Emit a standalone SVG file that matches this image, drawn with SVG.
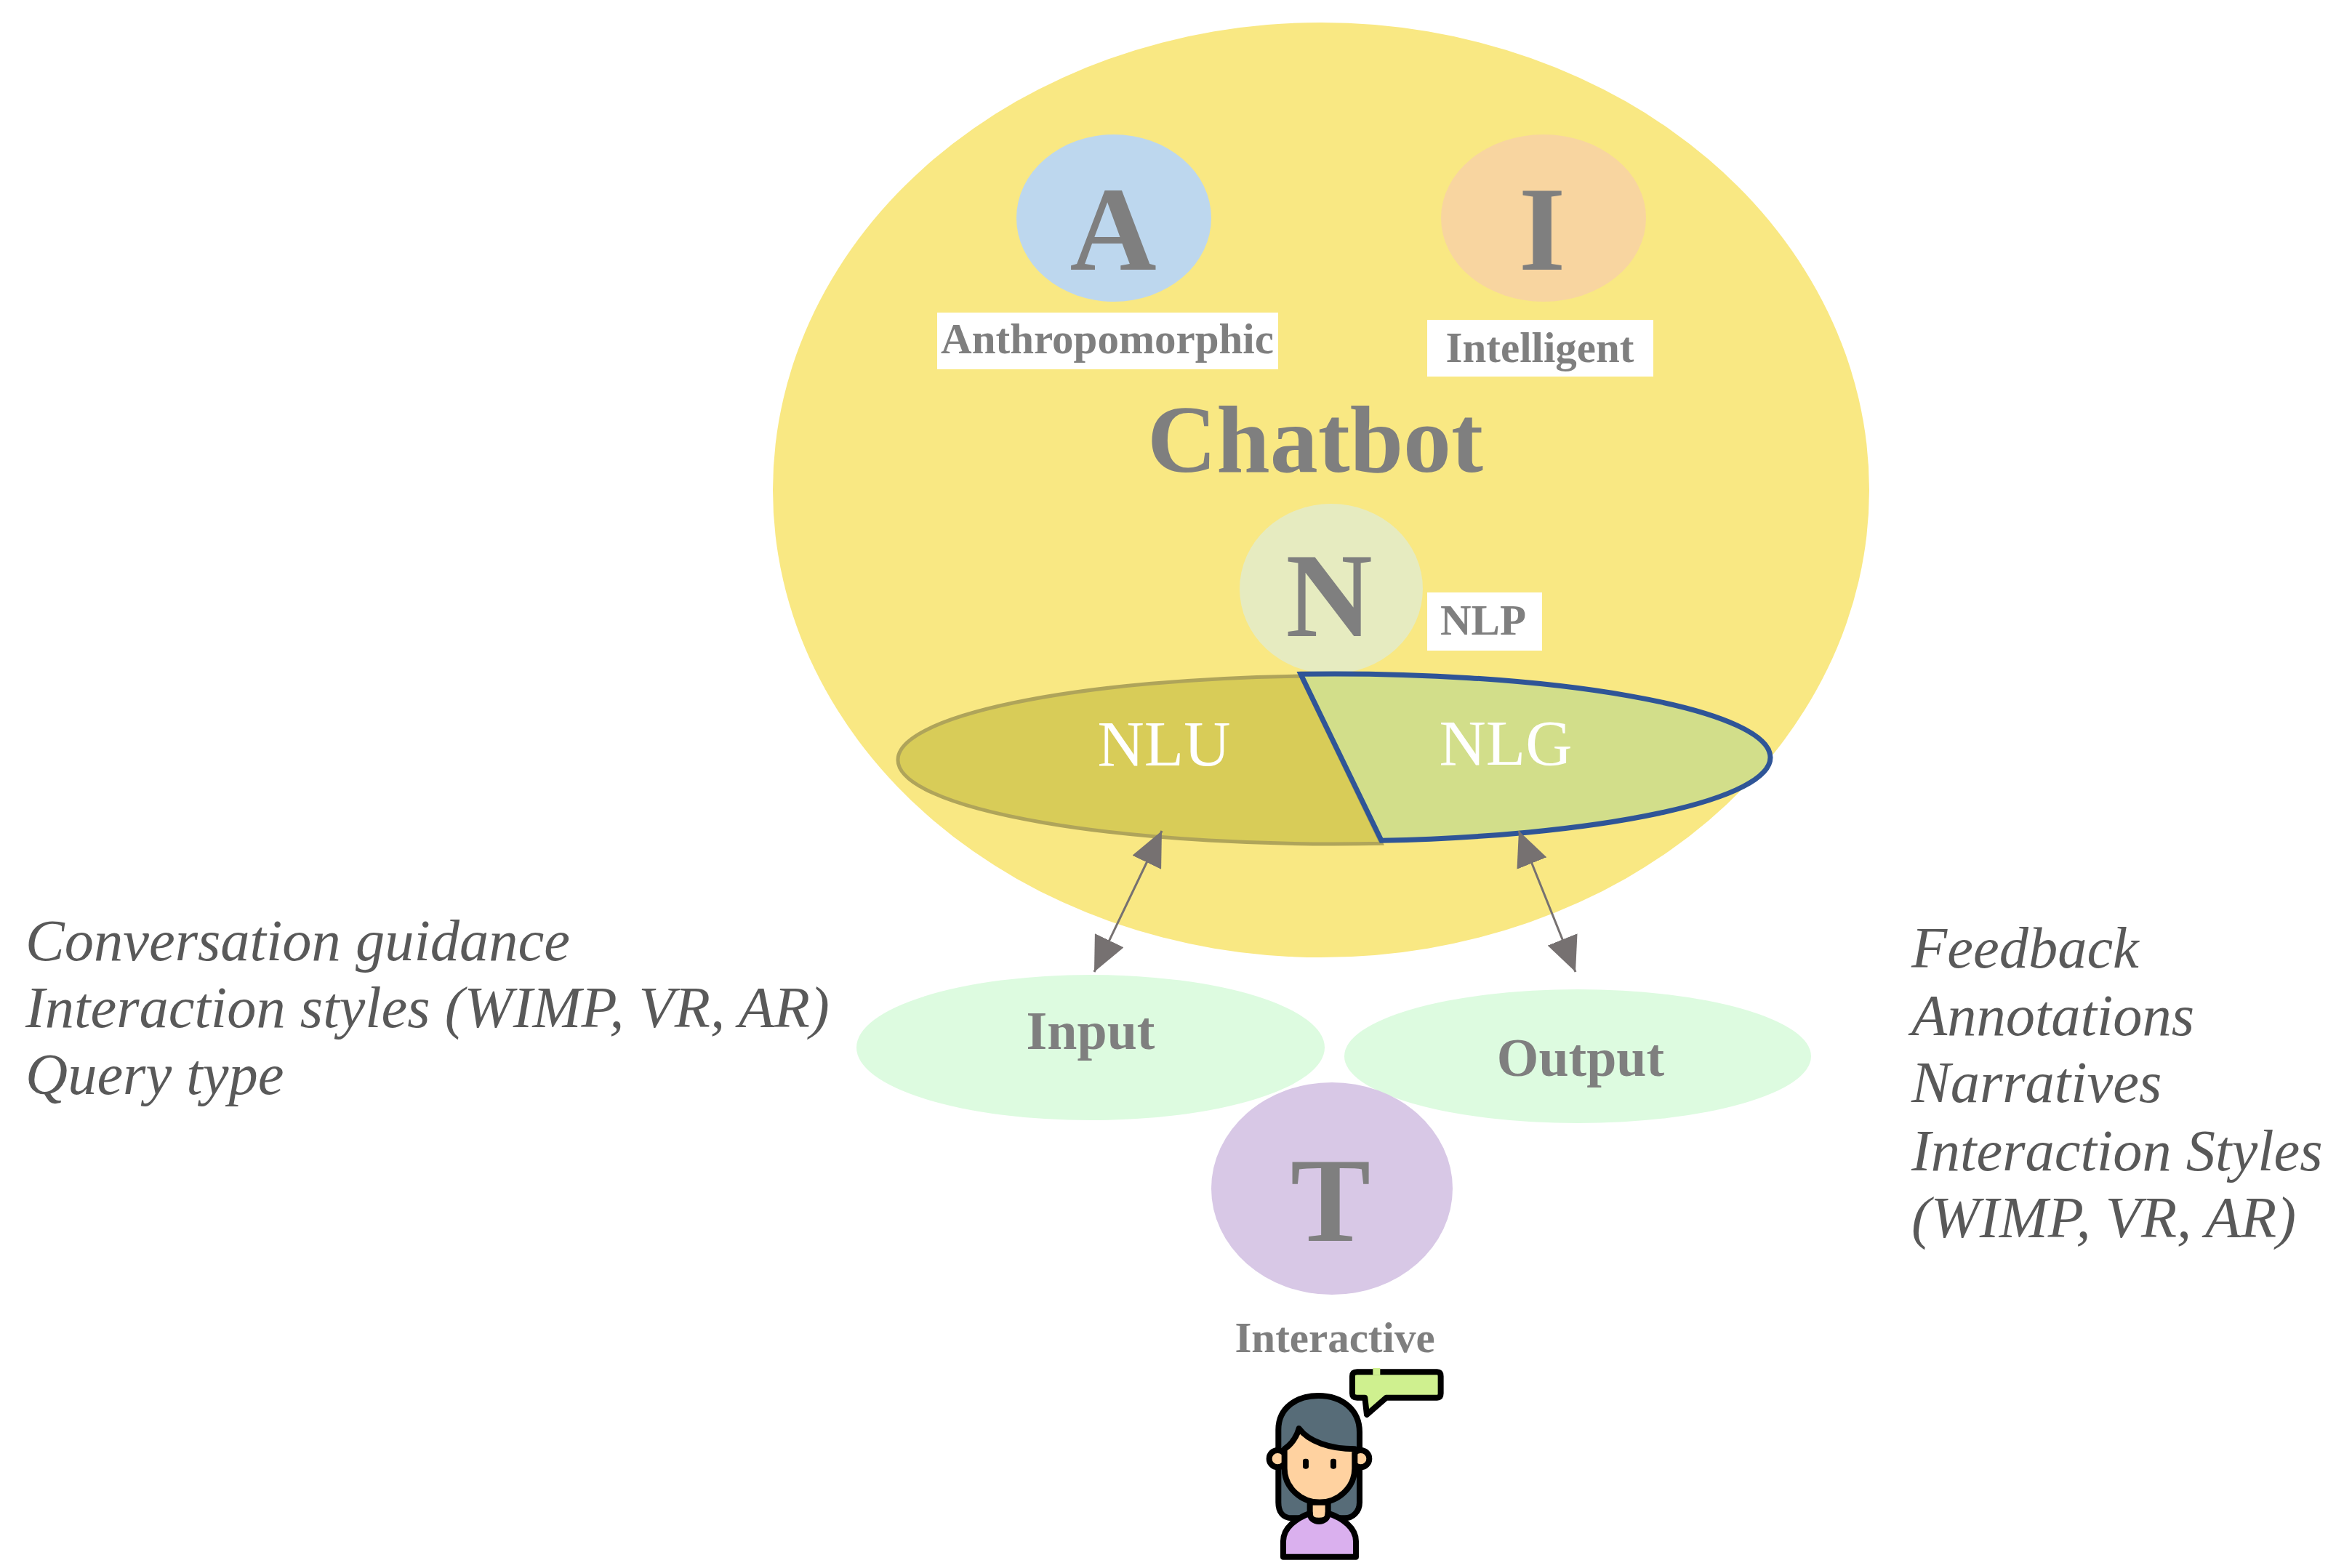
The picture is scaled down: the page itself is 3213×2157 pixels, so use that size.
<svg xmlns="http://www.w3.org/2000/svg" width="3213" height="2157" viewBox="0 0 3213 2157">
<style>
text{font-family:"Liberation Serif","Times New Roman",serif}
.b{font-weight:bold;fill:#7f7f7f;text-anchor:middle}
.big{font-size:165px}
.lab{font-size:59px}
.io{font-size:74px}
.nl{font-size:89px;fill:#fff;text-anchor:middle}
.it{font-style:italic;font-size:80.5px;fill:#595959}
.ln{stroke:#767171;stroke-width:3;fill:none;marker-start:url(#ah);marker-end:url(#ah)}
.ic{stroke:#000;stroke-width:24;stroke-linejoin:round;stroke-linecap:round}
</style>
<defs>
<marker id="ah" markerUnits="userSpaceOnUse" markerWidth="50" markerHeight="44" refX="48" refY="22" orient="auto-start-reverse">
<path d="M0 0L48 22L0 44Z" fill="#767171"/>
</marker>
</defs>
<rect width="3213" height="2157" fill="#fff"/>
<g id="chatbot">
<ellipse cx="1817" cy="674" rx="754" ry="643" fill="#f9e883"/>
<text class="b" x="1809" y="649" font-size="132">Chatbot</text>
</g>
<g id="node-a">
<ellipse cx="1532" cy="300" rx="134" ry="115" fill="#bdd7ee"/>
<text class="b big" x="1531" y="371">A</text>
<rect x="1289" y="430" width="469" height="78" fill="#fff"/>
<text class="b lab" x="1523" y="486">Anthropomorphic</text>
</g>
<g id="node-i">
<ellipse cx="2123" cy="300" rx="141" ry="115" fill="#f8d5a0"/>
<text class="b big" x="2121" y="371">I</text>
<rect x="1963" y="440" width="311" height="78" fill="#fff"/>
<text class="b lab" x="2118" y="498">Intelligent</text>
</g>
<g id="node-n">
<ellipse cx="1831" cy="810" rx="126" ry="117" fill="#e6ebc0"/>
<text class="b big" x="1828" y="875">N</text>
<rect x="1963" y="815" width="158" height="80" fill="#fff"/>
<text class="b lab" x="2040" y="873">NLP</text>
</g>
<g id="node-nlu">
<path d="M1789 930A600 115.5 0 0 0 1235 1045.5A600 115.5 0 0 0 1900 1160.3L1789 930Z" fill="#d8cc58" stroke="#afa45a" stroke-width="5"/>
<text class="nl" x="1601" y="1053">NLU</text>
</g>
<g id="node-nlg">
<path d="M1789 927.3A600 115 0 0 1 2435 1042A600 115 0 0 1 1900 1156.3Z" fill="#d2de8a" stroke="#2f5597" stroke-width="7"/>
<text class="nl" x="2071" y="1052">NLG</text>
</g>
<g id="node-input">
<ellipse cx="1500" cy="1441" rx="322" ry="100" fill="#ddfbe0"/>
<text class="b io" x="1500" y="1443">Input</text>
</g>
<g id="node-output">
<ellipse cx="2170" cy="1453" rx="321" ry="92" fill="#ddfbe0"/>
<text class="b io" x="2174" y="1480">Output</text>
</g>
<g id="node-t">
<ellipse cx="1832" cy="1635" rx="166" ry="146" fill="#d8c8e6"/>
<text class="b big" x="1830" y="1707">T</text>
<text class="b lab" x="1836" y="1860">Interactive</text>
</g>
<g id="connectors">
<line class="ln" x1="1505" y1="1337" x2="1598" y2="1143"/>
<line class="ln" x1="2167" y1="1337" x2="2089" y2="1143"/>
</g>
<g id="notes-left">
<text class="it" x="35" y="1321">Conversation guidance</text>
<text class="it" x="35" y="1413">Interaction styles (WIMP, VR, AR)</text>
<text class="it" x="35" y="1505">Query type</text>
</g>
<g id="notes-right">
<text class="it" x="2629" y="1331">Feedback</text>
<text class="it" x="2629" y="1424">Annotations</text>
<text class="it" x="2629" y="1516">Narratives</text>
<text class="it" x="2629" y="1610">Interaction Styles</text>
<text class="it" x="2629" y="1702">(WIMP, VR, AR)</text>
</g>
<g id="user-icon" transform="translate(1650 1780) scale(.3333)">
<path class="ic" fill="#cff08f" d="M650 322H980Q995 322 995 340V410Q995 428 980 428H770L690 498L682 428H650Q630 428 630 410V340Q630 322 650 322Z"/>
<path d="M715 306H745V335H715Z" fill="#cff08f"/>
<path class="ic" fill="#576c78" d="M325 860V560C325 470 400 420 490 420C590 420 660 480 660 570V860C660 900 630 925 600 925H380C345 925 325 900 325 860Z"/>
<circle class="ic" cx="322" cy="680" r="35" fill="#ffd2a0"/>
<circle class="ic" cx="665" cy="680" r="35" fill="#ffd2a0"/>
<path class="ic" fill="#ffd2a0" d="M350 640C380 620 400 590 410 555C450 610 540 640 640 640V720C640 800 570 860 495 860C420 860 350 800 350 720Z"/>
<rect x="426" y="680" width="24" height="42" rx="10"/>
<rect x="540" y="680" width="24" height="42" rx="10"/>
<path class="ic" fill="#ffd2a0" d="M455 860H530V915Q530 935 492 935Q455 935 455 915Z"/>
<path class="ic" fill="#dab0ee" d="M345 1085H645V1020C645 965 590 925 530 905C530 950 455 950 455 905C400 925 345 965 345 1020Z"/>
</g>
</svg>
